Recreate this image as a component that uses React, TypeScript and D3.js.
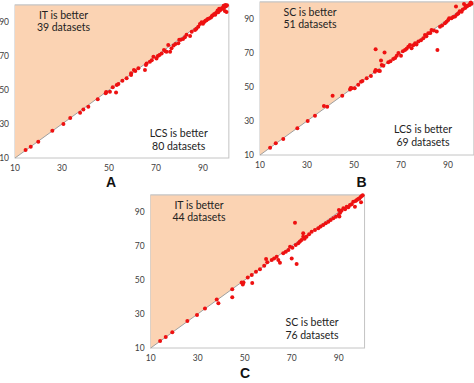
import React from "react";
import * as d3 from "d3";

const ticks = [10, 30, 50, 70, 90];

const aX = [14.5,16.7,19.9,25.9,30.6,33.5,37.7,39.1,41.2,45.2,48.6,48.8,50.4,53,51.6,53.3,54,55.7,57.5,59.4,59.4,61.2,60.6,62.5,65.3,65.7,66,67.4,68.9,68.2,70.2,70.8,71.5,72.4,73.4,74,75.2,74.5,76,76.6,77.5,78.3,79.5,79.9,80.5,81.5,82.3,83,84.5,85.2,86.6,87.2,88,88.7,89.4,90,90.5,91,91.5,92,92.6,93.4,93.8,94.2,94.8,95.2,95.6,96.2,96.5,96.9,97.3,97.7,98.1,98.5,98.8,99.1,99.5,99.8,100,100.2,99.3];
const aY = [14.7,16.6,19.6,26,30,33.5,36.6,38.6,40.2,44.5,48.1,48.8,49,48.6,51.6,52.9,53.5,55.5,56.9,59.8,58.8,61.2,61.8,62.8,61.8,64.7,65.6,66.6,69.6,67.5,68.5,70,70.6,71.5,73.5,72.8,76.5,72.5,72.5,74.5,76.2,77,77.5,79.5,79.6,80,81,82.5,81.8,84.3,85.3,86,87.2,88.8,89.8,88.9,90,90.8,91,91.8,92,92.7,93.5,93.9,94.7,94.3,95.5,96.7,95.8,97.8,96.9,97.5,98.2,98,99.6,98.7,100,99.3,95.9,99.8,96.5];

const bX = [14.3,16.7,19.9,25.9,30.3,33.4,37.2,38.6,40.9,45,48.3,48.6,49,50.3,51.8,53,53.6,55.4,57.2,58.9,59.2,59.2,60.5,61,61.5,61.8,63,62.5,64.6,65.5,66.7,67.5,68.2,68.9,70,70.8,71.7,72.4,73.1,73.8,74.5,75.2,76,76.6,77.4,78.5,79.5,80.2,80.8,81.6,82.5,83,84,85.2,85.5,86.6,87.5,88.7,89.4,90.1,90.5,91.5,92.2,93,93.4,93.8,94.4,95,95.8,96.3,96.8,97.3,98,98.5,99.2,99.7,100,99.5,97.5];
const bY = [14.3,16.9,19.4,25.7,30,33.1,38.8,38.4,44.9,44.9,48.6,49.4,49.2,49.2,51.3,53.1,53.5,55.1,56.5,59,60,72.2,59.6,59.4,65.6,62.9,70.3,62.5,64.5,65.2,66.5,67,68.4,70,68.4,71,71.8,72.5,73.7,74.7,72.8,74.5,75.7,75,76.7,77.5,78.7,80.6,79.8,81.6,81.8,83.5,83.2,82.6,71.8,85.5,86.2,87.5,88.4,89.4,90.5,90.4,91.2,91.4,97.3,92.6,93.3,94.6,94.3,95.6,98.8,96.5,97.3,98,98.3,99.7,98.9,99.2,97.8];

const cX = [14,16.4,19.2,25.6,29.7,33.1,38.1,38.8,44.7,44.7,48.7,49.2,49.5,51.3,53,53.2,54.8,56.5,58.3,59.1,59.6,61.5,62.5,63.6,64.3,65,66.4,67.5,68.6,69.3,70,70.3,71.4,72.1,71.7,72.8,73.5,74.2,74.9,74.9,75.5,76.3,77.4,78.5,79.9,81.3,82.3,83.4,84.5,85.6,86.6,87.7,88.8,89.9,90.1,90.3,90.6,91.2,92,92.7,93.4,94.1,94.8,95.5,96.2,96.9,97.2,97.7,98.3,98.8,99.3,99.8,99.5,100.2];
const cY = [14.1,16.5,19.2,25.9,29.4,33.3,38.6,36.3,44.5,39.8,48.6,47.4,48.6,51.4,52.9,48.2,54.9,56.3,58.4,62.4,60.4,61.8,62.6,63.7,61.8,60.2,65.7,66.6,67.6,69.6,62.7,68.9,83.7,59.4,70.6,71.6,72.6,73.6,77.5,75.5,74.2,75.5,76.9,78.4,79.4,80.4,81.4,82.4,83.4,84.3,85.3,86.3,87.2,88.2,91.2,87.3,89.5,90.8,92.2,91.6,93.1,92.8,94.1,94.6,96.1,93.1,96.5,97,97.6,98,98.8,99.4,95.7,99.8];

const FONT = "Lato, 'Open Sans', sans-serif";

type PanelProps = {
  left: number;
  bottom: number;
  xs: number[];
  ys: number[];
  upper: string[];
  lower: string[];
  upperPos: [number, number];
  lowerPos: [number, number];
  letter: string;
  letterPos: [number, number];
};

function Panel(p: PanelProps) {
  const x = d3.scaleLinear().domain([10, 101]).range([p.left, p.left + 91 * 2.35]);
  const y = d3.scaleLinear().domain([10, 100]).range([p.bottom, p.bottom - 153]);
  const x0 = x(10), x1 = x(101), y0 = y(10), y1 = y(100);
  const tri = `M${x0},${y0}L${x0},${y1}L${x1},${y1}L${x(100)},${y(100)}Z`;
  return (
    <g>
      <rect x={x0} y={y1} width={x1 - x0} height={y0 - y1} fill="#fff" stroke="#c4c4c4" strokeWidth={1} />
      <path d={tri} fill="#fbd3b3" />
      <line x1={x(10)} y1={y(10)} x2={x(100)} y2={y(100)} stroke="#a0a0a0" strokeWidth={1} />
      <line x1={x0} y1={y1} x2={x1} y2={y1} stroke="#c4c4c4" />
      {ticks.map((t) => (
        <text key={"x" + t} x={x(t)} y={y0 + 13} textAnchor="middle" fontSize={8.5} fill="#404040" fontFamily={FONT}>{t}</text>
      ))}
      {ticks.map((t) => (
        <text key={"y" + t} x={x0 - 6} y={y(t) + 3} textAnchor="end" fontSize={8.5} fill="#404040" fontFamily={FONT}>{t}</text>
      ))}
      {p.xs.map((v, i) => (
        <circle key={i} cx={x(v)} cy={y(p.ys[i])} r={2} fill="#ee1111" />
      ))}
      {p.upper.map((s, i) => (
        <text key={"u" + i} x={p.upperPos[0]} y={p.upperPos[1] + i * 12} textAnchor="middle" fontSize={10.5} fill="#222" fontFamily={FONT}>{s}</text>
      ))}
      {p.lower.map((s, i) => (
        <text key={"l" + i} x={p.lowerPos[0]} y={p.lowerPos[1] + i * 13} textAnchor="middle" fontSize={10.5} fill="#222" fontFamily={FONT}>{s}</text>
      ))}
      <text x={p.letterPos[0]} y={p.letterPos[1]} textAnchor="middle" fontSize={14} fontWeight="bold" fill="#111" fontFamily="'Liberation Sans', Arial, sans-serif">{p.letter}</text>
    </g>
  );
}

export default function App() {
  return (
    <svg width={474} height={383} style={{ position: "absolute", left: 0, top: 0 }}>
      <rect width={474} height={383} fill="#fff" />
      <Panel left={15} bottom={158} xs={aX} ys={aY} upper={["IT is better", "39 datasets"]} lower={["LCS is better", "80 datasets"]}
        upperPos={[63.5, 18.5]} lowerPos={[178.7, 136.5]} letter="A" letterPos={[111, 187]} />
      <Panel left={260} bottom={155} xs={bX} ys={bY} upper={["SC is better", "51 datasets"]} lower={["LCS is better", "69 datasets"]}
        upperPos={[310, 15.5]} lowerPos={[423, 132.5]} letter="B" letterPos={[361.5, 187]} />
      <Panel left={150.7} bottom={348} xs={cX} ys={cY} upper={["IT is better", "44 datasets"]} lower={["SC is better", "76 datasets"]}
        upperPos={[199, 208.5]} lowerPos={[312, 325.5]} letter="C" letterPos={[245, 378]} />
    </svg>
  );
}
